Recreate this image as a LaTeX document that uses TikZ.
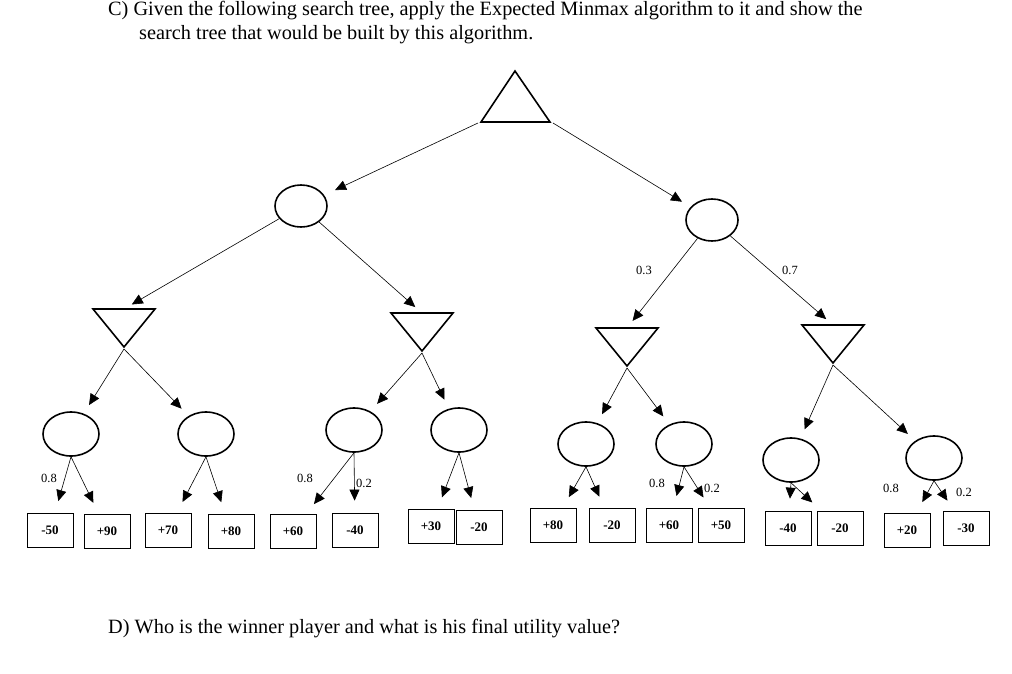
\documentclass[tikz,border=0pt]{standalone}
\usepackage{fontspec}
\setmainfont{Liberation Serif}
\usetikzlibrary{arrows.meta,shapes.geometric}
\begin{document}
\begin{tikzpicture}[x=1pt,y=-1pt,
  chance/.style={draw,line width=1.6pt,ellipse,minimum width=52pt,minimum height=42pt,inner sep=0},
  leaf/.style={draw,line width=0.8pt,minimum width=46pt,minimum height=34pt,inner sep=0,font=\fontsize{13}{15}\selectfont\bfseries},
  tri/.style={line width=1.6pt,line join=miter},
  arr/.style={-{Triangle[length=11pt,width=10pt]},line width=0.6pt},
  prob/.style={font=\fontsize{12.5}{14}\selectfont},
  txt/.style={font=\fontsize{20.3}{23}\selectfont,anchor=north west,inner sep=0}]
\useasboundingbox (0,0) rectangle (1012,673);
\node[txt] (t1) at (108,1) {C) Given the following search tree, apply the Expected Minmax algorithm to it and show the};
\node[txt] (t2) at (139,25) {search tree that would be built by this algorithm.};
\node[txt] (t3) at (108,619) {D) Who is the winner player and what is his final utility value?};
% root
\draw[tri] (481,122)--(515,71)--(550,122)--cycle;
\coordinate (rl) at (478,123); \coordinate (rr) at (553,123);
% level1 chance
\node[chance] (c1) at (301,206) {};
\node[chance] (c2) at (712,220) {};
% min triangles
\foreach \n/\x/\t in {m1/124/309,m2/422/313,m3/627/328,m4/833/325}{
  \draw[tri] (\x-31,\t)--(\x+31,\t)--(\x,\t+38)--cycle;
  \coordinate (\n t) at (\x,\t);
  \coordinate (\n b) at (\x,\t+40);
}
% level3 chance
\foreach \n/\x/\y in {a/71/434,b/206/434,c/354/430,d/459/430,e/586/444,f/684/444,g/791/460,h/934/458}{
  \node[chance,minimum width=56pt,minimum height=44pt] (\n) at (\x,\y) {};
}
% leaves
\foreach \n/\x/\y/\v in {l1/50/530/-50,l2/107/531/+90,l3/168/530/+70,l4/231/531/+80,l5/293/531/+60,l6/355/530/-40,l7/431/526/+30,l8/479/527/-20,l9/553/525/+80,l10/612/525/-20,l11/669/525/+60,l12/721/525/+50,l13/788/528/-40,l14/840/528/-20,l15/907/530/+20,l16/966/528/-30}{
  \node[leaf] (\n) at (\x,\y) {\v};
}
% edges
\draw[arr,shorten >=12pt] (rl) -- (c1);
\draw[arr,shorten >=10pt] (rr) -- (c2);
\draw[arr,shorten >=9pt] (c1) -- (m1t);
\draw[arr,shorten >=9pt] (c1) -- (m2t);
\draw[arr,shorten >=9pt] (c2) -- (m3t);
\draw[arr,shorten >=9pt] (c2) -- (m4t);
\draw[arr,shorten >=10pt] (m1b) -- (a);
\draw[arr,shorten >=10pt] (m1b) -- (b);
\draw[arr,shorten >=10pt] (m2b) -- (c);
\draw[arr,shorten >=10pt] (m2b) -- (d);
\draw[arr,shorten >=10pt] (m3b) -- (e);
\draw[arr,shorten >=10pt] (m3b) -- (f);
\draw[arr,shorten >=10pt] (m4b) -- (g);
\draw[arr,shorten >=10pt] (m4b) -- (h);
\foreach \p/\a/\b in {a/l1/l2,b/l3/l4,c/l5/l6,d/l7/l8,e/l9/l10,f/l11/l12,g/l13/l14,h/l15/l16}{
  \draw[arr,shorten >=12pt] (\p.south) -- (\a);
  \draw[arr,shorten >=12pt] (\p.south) -- (\b);
}
% probabilities
\node[prob] (p1) at (49,478) {0.8};
\node[prob] (p2) at (305,478) {0.8};
\node[prob] (p3) at (364,483) {0.2};
\node[prob] (p4) at (644,270) {0.3};
\node[prob] (p5) at (790,270) {0.7};
\node[prob] (p6) at (657,483) {0.8};
\node[prob] (p7) at (712,488) {0.2};
\node[prob] (p8) at (891,488) {0.8};
\node[prob] (p9) at (964,492) {0.2};
\end{tikzpicture}
\end{document}
